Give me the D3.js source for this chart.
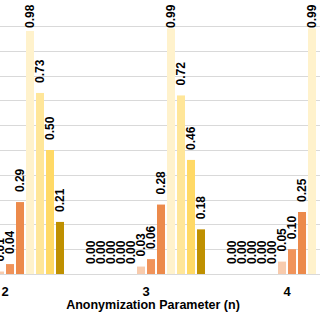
<!DOCTYPE html>
<html>
<head>
<meta charset="utf-8">
<script src="https://cdn.jsdelivr.net/npm/d3@7"></script>
<style>
  body { margin: 0; background: #fff; }
  svg { display: block; font-family: "Liberation Sans", Arial, sans-serif; }
</style>
</head>
<body>
<div class="chart"></div>
<script>
// data (groups 2, 3, 4 of the anonymization parameter)
// group 4 is cut by the right edge after its 0.99 bar
const groups = ['2', '3', '4'];
const series = ['s1', 's2', 's3', 's4', 's5', 's6', 's7', 's8', 's9', 's10', 's11', 's12'];
const values2 = [0.00, 0.00, 0.00, 0.00, 0.00, 0.01, 0.04, 0.29, 0.98, 0.73, 0.50, 0.21];
const values3 = [0.00, 0.00, 0.00, 0.00, 0.00, 0.03, 0.06, 0.28, 0.99, 0.72, 0.46, 0.18];
const values4 = [0.00, 0.00, 0.00, 0.00, 0.00, 0.05, 0.10, 0.25, 0.99];
const colors = ['#a5a5a5', '#7f7f7f', '#5b9bd5', '#4472c4', '#70ad47',
                '#f8cbad', '#f0935a', '#ec8a4b', '#fff2cc', '#ffe699', '#ffd966', '#bf9000'];
const yTicks = [0, 0.1, 0.2, 0.3, 0.4, 0.5, 0.6, 0.7, 0.8, 0.9, 1.0];

const allValues = [values2, values3, values4];
const data = [];
groups.forEach((g, gi) => {
    allValues[gi].forEach((v, i) => data.push({ group: g, series: series[i], idx: i, value: v }));
});

const width = 320, height = 320;
const svg = d3.select('.chart').append('svg')
    .attr('width', width).attr('height', height);

// group step 141px, group 2 centred at x = 5
const x0 = d3.scaleBand().domain(groups).range([-65.5, 357.5]).padding(0);
const x1 = d3.scaleBand().domain(series).range([10.5, 130.5])
    .paddingInner(0.2).paddingOuter(0.1);
const y = d3.scaleLinear().domain([0, 1]).range([274, 26]);

// gridlines
svg.append('g').selectAll('line').data(yTicks).join('line')
    .attr('x1', 0).attr('x2', width)
    .attr('y1', d => Math.round(y(d)) + 0.5).attr('y2', d => Math.round(y(d)) + 0.5)
    .attr('stroke', '#d9d9d9').attr('stroke-width', 1);

// bars
svg.append('g').selectAll('rect').data(data).join('rect')
    .attr('x', d => x0(d.group) + x1(d.series))
    .attr('width', x1.bandwidth())
    .attr('y', d => y(d.value))
    .attr('height', d => y(0) - y(d.value))
    .attr('fill', d => colors[d.idx]);

// value labels, rotated, kept inside the top of the chart
const labelLen = 24;
svg.append('g').selectAll('text').data(data).join('text')
    .attr('transform', d => {
        const cx = x0(d.group) + x1(d.series) + x1.bandwidth() / 2;
        const yb = Math.max(y(d.value) - 10, 4 + labelLen);
        return `translate(${cx},${yb}) rotate(-90)`;
    })
    .attr('dy', '0.36em')
    .style('font-size', '12px')
    .style('font-weight', 'bold')
    .style('fill', '#000')
    .text(d => d.value.toFixed(2));

// x axis
const xAxis = d3.axisBottom(x0).tickSize(0).tickPadding(13);
const xAxisDraw = svg.append('g').attr('transform', `translate(0,${y(0)})`).call(xAxis);
xAxisDraw.select('.domain').remove();
xAxisDraw.selectAll('text')
    .style('font-size', '13px').style('font-weight', 'bold')
    .style('fill', '#000').attr('font-family', null);

svg.append('text')
    .attr('x', 153).attr('y', 309)
    .attr('text-anchor', 'middle')
    .style('font-size', '12.5px').style('font-weight', 'bold')
    .style('fill', '#000')
    .text('Anonymization Parameter (n)');
</script>
</body>
</html>
